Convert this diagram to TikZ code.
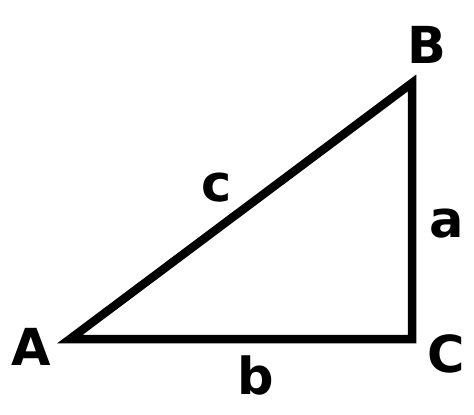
\documentclass[tikz,border=0pt]{standalone}
\usepackage{fontspec}
\setmainfont{DejaVu Sans}
\tikzset{
  side/.style={line width=8.5pt, line join=miter},
  lbl/.style={anchor=base, inner sep=0pt, font=\bfseries\fontsize{51}{55}\selectfont}
}
\begin{document}
\begin{tikzpicture}[x=1pt,y=-1pt]
\useasboundingbox[fill=white] (0,0) rectangle (474,415);
%Vertices
\coordinate (A) at (70,339);
\coordinate (C) at (412,339);
\coordinate (B) at (412,83);
%Triangle
\draw[side] (A) -- (C) -- (B) -- cycle;
%Nodes and names
\node[lbl] (lA) at (31,365) {A};
\node[lbl] (lB) at (427,63) {B};
\node[lbl] (lC) at (446,372) {C};
\node[lbl] (la) at (447,237) {a};
\node[lbl] (lb) at (256,394) {b};
\node[lbl] (lc) at (217,201) {c};
\end{tikzpicture}
\end{document}
